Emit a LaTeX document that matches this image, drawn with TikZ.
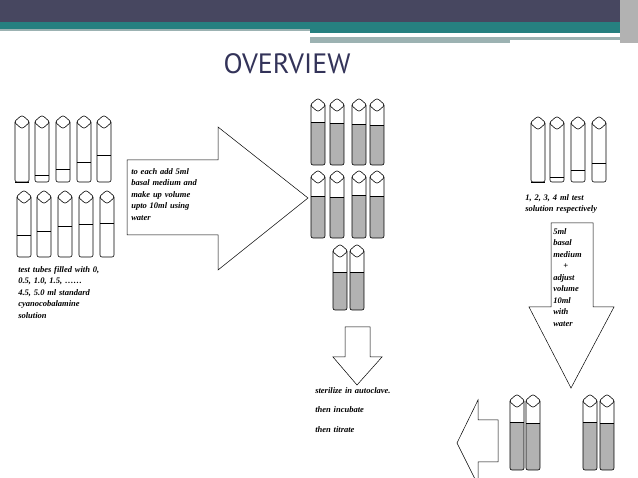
\documentclass[tikz,border=0pt]{standalone}
\usepackage{fontspec}
\newfontfamily\titlefont{PT Sans}
\newfontfamily\handfont{Liberation Serif}
\newcommand\tb[5]{%
 \fill[#5] (#1-7,#4) rectangle (#1+7,#3);
 \draw (#1-7,#4)--(#1+7,#4);
 \draw[rounded corners=2] (#1-7,#2+7) -- (#1-7,#3) -- (#1+7,#3) -- (#1+7,#2+7);
 \draw[fill=white,rounded corners=2.5] (#1,#2) -- (#1+8,#2+7) -- (#1,#2+14)--(#1-8,#2+7)--cycle;}
\tikzset{hand/.style={font=\handfont\bfseries\itshape\fontsize{8.5}{11.5}\selectfont, align=left, anchor=north west, inner sep=0pt, text width=#1},
 arr/.style={draw, fill=white, line width=0.5pt}}
\colorlet{tg}{black!30}
\begin{document}
\begin{tikzpicture}[x=1pt,y=-1pt,line width=0.6pt]
\useasboundingbox (0,0) rectangle (638,478);
\fill[white] (0,0) rectangle (638,478);
% header
\fill[black!60!blue!30!gray!80!black] (0,0) rectangle (638,22);
\fill[teal!70!gray] (0,22) rectangle (638,31);
\fill[teal!30!gray!60] (0,29) rectangle (310,31);
\fill[teal!70!gray] (310,31) rectangle (638,33);
\fill[teal!30!gray!60] (310,37) rectangle (510,43);
\fill[teal!30!gray!60] (510,37) rectangle (625,40);
\fill[gray!60] (620,0) rectangle (638,43);
\node[font=\titlefont\fontsize{28}{30}\selectfont, text=black!75!blue!60!gray] (title) at (287,64) {OVERVIEW};
% left tubes
\tb{22}{115}{182}{182}{white}
\tb{42}{115}{182}{175}{white}
\tb{63}{115}{182}{169}{white}
\tb{84}{115}{182}{162}{white}
\tb{104}{115}{182}{155}{white}
\tb{24}{190}{257}{235}{white}
\tb{44}{190}{257}{231}{white}
\tb{65}{190}{257}{226}{white}
\tb{86}{190}{257}{224}{white}
\tb{107}{190}{257}{223}{white}
\node[hand=120pt] (t1) at (18,266) {test tubes filled with 0,\\0.5, 1.0, 1.5, \dots\dots\\4.5, 5.0 ml standard\\cyanocobalamine\\solution};
% big arrow
\draw[arr] (127,160) -- (218,160) -- (218,127) -- (308,198) -- (218,270) -- (218,235) -- (127,235) -- cycle;
\node[hand=95pt] (t2) at (131,168) {to each add 5ml\\basal medium and\\make up volume\\upto 10ml using\\water};
% middle tubes
\tb{318}{98}{165}{122}{tg}
\tb{337}{98}{165}{123}{tg}
\tb{359}{98}{165}{124}{tg}
\tb{377}{98}{165}{125}{tg}
\tb{318}{170}{238}{196}{tg}
\tb{337}{170}{238}{197}{tg}
\tb{359}{170}{238}{195}{tg}
\tb{377}{170}{238}{196}{tg}
\tb{340}{244}{310}{272}{tg}
\tb{357}{244}{310}{272}{tg}
\draw[arr] (345,327) -- (370,327) -- (370,357) -- (382,357) -- (357,385) -- (333,357) -- (345,357) -- cycle;
\node[hand=110pt] (t3) at (315,387) {sterilize in autoclave.\\[8pt]then incubate\\[8pt]then titrate};
% right tubes
\tb{538}{116}{182}{182}{white}
\tb{557}{116}{182}{177}{white}
\tb{578}{116}{182}{170}{white}
\tb{599}{116}{182}{163}{white}
\node[hand=110pt] (t4) at (525,194) {1, 2, 3, 4 ml test\\solution respectively};
\draw[arr] (551,223) -- (593,223) -- (593,307) -- (614,307) -- (571,388) -- (529,307) -- (551,307) -- cycle;
\node[hand=40pt] (t5) at (553,228) {5ml\\basal\\medium\\\hspace*{10pt}+\\adjust\\volume\\10ml\\with\\water};
\tb{517}{394}{470}{422}{tg}
\tb{533}{394}{470}{423}{tg}
\tb{590}{394}{470}{422}{tg}
\tb{607}{394}{470}{423}{tg}
\draw[arr] (498,420) -- (478,420) -- (478,400) -- (457,443) -- (478,485) -- (478,462) -- (498,462) -- cycle;
\end{tikzpicture}
\end{document}
